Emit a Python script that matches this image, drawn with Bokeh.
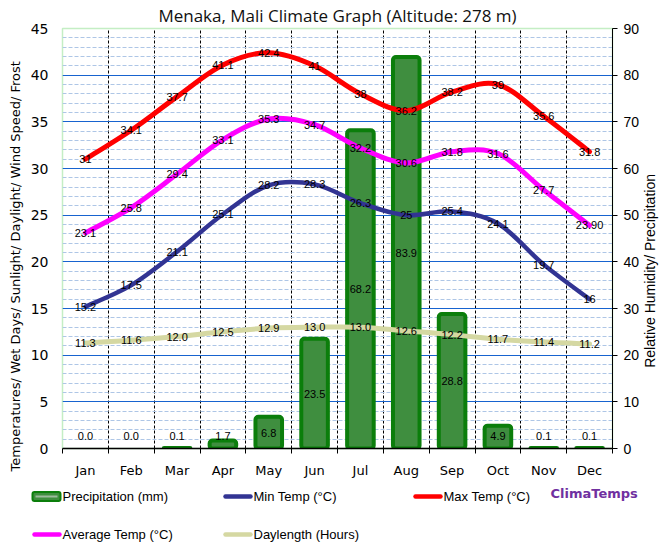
import math
from bokeh.plotting import figure
from bokeh.models import ColumnDataSource, Range1d, LinearAxis, FixedTicker, Title
from bokeh.layouts import column, row
from bokeh.core.properties import value
from bokeh.embed import file_html
from bokeh.resources import INLINE

# ---- data -------------------------------------------------------------
months = ["Jan", "Feb", "Mar", "Apr", "May", "Jun",
          "Jul", "Aug", "Sep", "Oct", "Nov", "Dec"]
max_temp = [31, 34.1, 37.7, 41.1, 42.4, 41, 38, 36.2, 38.2, 39, 35.6, 31.8]
avg_temp = [23.1, 25.8, 29.4, 33.1, 35.3, 34.7, 32.2, 30.6, 31.8, 31.6, 27.7, 23.9]
avg_text = ["23.1", "25.8", "29.4", "33.1", "35.3", "34.7",
            "32.2", "30.6", "31.8", "31.6", "27.7", "23.90"]
min_temp = [15.2, 17.5, 21.1, 25.1, 28.2, 28.3, 26.3, 25, 25.4, 24.1, 19.7, 16]
daylength = [11.3, 11.6, 12.0, 12.5, 12.9, 13.0, 13.0, 12.6, 12.2, 11.7, 11.4, 11.2]
precip = [0.0, 0.0, 0.1, 1.7, 6.8, 23.5, 68.2, 83.9, 28.8, 4.9, 0.1, 0.1]
left_ticks = [0, 5, 10, 15, 20, 25, 30, 35, 40, 45]
right_ticks = [0, 10, 20, 30, 40, 50, 60, 70, 80, 90]

TITLE = "Menaka, Mali Climate Graph (Altitude: 278 m)"
LEFT_LABEL = "Temperatures/ Wet Days/ Sunlight/ Daylight/ Wind Speed/ Frost"
RIGHT_LABEL = "Relative Humidity/ Precipitation"

# ---- page geometry (pixels) ---------------------------------------------
PAGE_W, PAGE_H = 661, 558
LEG_H = 76          # legend strip
MID_H = PAGE_H - LEG_H
RIGHT_W = 19        # strip holding the right axis title
MAIN_W = PAGE_W - RIGHT_W
FRAME_L, FRAME_R = 60, 615   # frame edges on the page
FRAME_T, FRAME_B = 27, 448


def strip(w, h, y_top=0, y_bottom=None, border_top=0, border_bottom=0):
    """Blank figure whose data units are page pixels (y grows downwards)."""
    y_bottom = h if y_bottom is None else y_bottom
    f = figure(width=w, height=h, x_range=Range1d(0, w), y_range=Range1d(y_bottom, y_top),
               output_backend="svg", toolbar_location=None, title=None,
               x_axis_location=None, y_axis_location=None, min_border=0,
               min_border_top=border_top, min_border_bottom=border_bottom)
    f.grid.visible = False
    f.outline_line_color = None
    return f


xs = list(range(1, 13))
Y_MAX, P_MAX = 45, 90

p = figure(width=MAIN_W, height=MID_H, x_range=Range1d(0.5, 12.5), y_range=Range1d(0, Y_MAX),
           output_backend="svg", toolbar_location=None, title=TITLE,
           min_border_left=FRAME_L, min_border_right=MAIN_W - FRAME_R,
           min_border_top=FRAME_T, min_border_bottom=MID_H - FRAME_B)
p.title.align = "center"
p.title.text_font = "Open Sans"
p.title.text_font_size = "17px"
p.title.text_font_style = "normal"
p.title.text_color = "#111111"
p.title.standoff = 3
p.extra_y_ranges = {"precip": Range1d(0, P_MAX)}
p.background_fill_color = "white"
p.outline_line_color = "#c4eec4"
p.outline_line_width = 1.5

# x axis: month names centred, small ticks on the month boundaries
bounds = [i + 0.5 for i in range(0, 13)]
xa = p.xaxis[0]
xa.ticker = FixedTicker(ticks=xs, minor_ticks=bounds)
xa.major_label_overrides = {i: m for i, m in zip(xs, months)}
xa.major_tick_out = 0
xa.major_tick_in = 0
xa.minor_tick_out = 5
xa.minor_tick_in = 0
xa.axis_line_color = "black"
xa.axis_line_width = 1.5
xa.minor_tick_line_color = "black"
xa.major_label_text_font = "DejaVu Sans"
xa.major_label_text_font_size = "13px"
xa.major_label_text_color = "black"
xa.major_label_standoff = 9

# left axis
ya = p.yaxis[0]
ya.ticker = FixedTicker(ticks=left_ticks)
ya.axis_line_color = None
ya.major_tick_out = 0
ya.major_tick_in = 0
ya.minor_tick_out = 0
ya.minor_tick_in = 0
ya.major_label_text_font = "DejaVu Sans"
ya.major_label_text_font_size = "14px"
ya.major_label_text_color = "black"
ya.major_label_standoff = 14

# left axis title, running upwards from just below the frame
p.add_layout(Title(text=LEFT_LABEL, align="left", offset=-23, standoff=10,
                   text_font="DejaVu Sans", text_font_size="13px",
                   text_font_style="normal", text_color="black"), "left")

# right axis for precipitation
ra = LinearAxis(y_range_name="precip", ticker=FixedTicker(ticks=right_ticks))
ra.axis_line_color = "black"
ra.major_tick_out = 5
ra.major_tick_in = 0
ra.minor_tick_out = 0
ra.minor_tick_in = 0
ra.major_label_text_font = "Liberation Sans"
ra.major_label_text_font_size = "14px"
ra.major_label_text_color = "black"
ra.major_label_standoff = 6
p.add_layout(ra, "right")

# grids
p.xgrid.ticker = FixedTicker(ticks=[], minor_ticks=bounds[1:-1])
p.xgrid.grid_line_color = None
p.xgrid.minor_grid_line_color = "black"
p.xgrid.minor_grid_line_dash = "3 2"
p.xgrid.minor_grid_line_width = 1

p.ygrid.ticker = FixedTicker(ticks=[t for t in left_ticks if 0 < t < Y_MAX],
                             minor_ticks=[v for v in range(1, Y_MAX) if v % 5])
p.ygrid.grid_line_color = "#1763cf"
p.ygrid.grid_line_width = 1
p.ygrid.minor_grid_line_color = "#aec6e6"
p.ygrid.minor_grid_line_dash = "4 2"

# precipitation bars
bar_src = ColumnDataSource(dict(
    x=[x for x, v in zip(xs, precip) if v > 0],
    top=[v for v in precip if v > 0],
))
p.vbar(x="x", top="top", bottom=0, width=0.58, source=bar_src, y_range_name="precip",
       fill_color="#3f8e3f", line_color="#0b7e0b", line_width=4, border_radius=3)


# smooth curves through the monthly points (Catmull-Rom as cubic Beziers)
def smooth_segments(vals):
    n = len(vals)
    seg = dict(x0=[], y0=[], x1=[], y1=[], cx0=[], cy0=[], cx1=[], cy1=[])
    for i in range(n - 1):
        im, ip, ipp = max(i - 1, 0), i + 1, min(i + 2, n - 1)
        seg["x0"].append(xs[i]); seg["y0"].append(vals[i])
        seg["x1"].append(xs[ip]); seg["y1"].append(vals[ip])
        seg["cx0"].append(xs[i] + (xs[ip] - xs[im]) / 6)
        seg["cy0"].append(vals[i] + (vals[ip] - vals[im]) / 6)
        seg["cx1"].append(xs[ip] - (xs[ipp] - xs[i]) / 6)
        seg["cy1"].append(vals[ip] - (vals[ipp] - vals[i]) / 6)
    return ColumnDataSource(seg)


series = [
    (daylength, "#d5d8a2", 5),
    (min_temp, "#323493", 4.5),
    (avg_temp, "#ff00ff", 5),
    (max_temp, "#ff0000", 5),
]
for vals, color, lw in series:
    p.bezier(x0="x0", y0="y0", x1="x1", y1="y1", cx0="cx0", cy0="cy0",
             cx1="cx1", cy1="cy1", source=smooth_segments(vals),
             line_color=color, line_width=lw, line_cap="round")

# value labels
lab_font = value("Liberation Sans")


def put_text(ys, texts, **kw):
    p.text(x=xs, y=ys, text=texts, text_font=lab_font, text_font_size="11px",
           text_color="black", text_align="center", text_baseline="middle", **kw)


put_text(daylength, [f"{v:.1f}" for v in daylength])
put_text(min_temp, [f"{v:g}" for v in min_temp])
put_text(avg_temp, avg_text)
put_text(max_temp, [f"{v:g}" for v in max_temp])
put_text([max(v / 2, 2.6) for v in precip], [f"{v:.1f}" for v in precip],
         y_range_name="precip")

# ---- right axis title strip (frame aligned with the main plot) ------------
right = strip(RIGHT_W, MID_H, y_top=FRAME_T, y_bottom=FRAME_B,
              border_top=FRAME_T, border_bottom=MID_H - FRAME_B)
right.text(x=[649 - MAIN_W], y=[270], text=[RIGHT_LABEL],
           angle=math.pi / 2, text_font=value("Liberation Sans"), text_font_size="14px",
           text_color="black", text_align="center", text_baseline="middle")

# ---- legend strip -------------------------------------------------------
lg = strip(PAGE_W, LEG_H)
col_x = [32, 223, 413]
row_y = [14, 52]
sw_len = 28
entries = [
    ("Precipitation (mm)", None, 0, 0),
    ("Min Temp (\u00b0C)", "#323493", 1, 0),
    ("Max Temp (\u00b0C)", "#ff0000", 2, 0),
    ("Average Temp (\u00b0C)", "#ff00ff", 0, 1),
    ("Daylength (Hours)", "#d5d8a2", 1, 1),
]
for text, color, c, r in entries:
    x0, y0 = col_x[c], row_y[r]
    if color is None:
        lg.rect(x=[x0 + sw_len / 2], y=[y0], width=sw_len, height=9,
                fill_color="#3f8e3f", line_color="#0b7e0b", line_width=2, border_radius=2)
        lg.segment(x0=[x0 + 3], y0=[y0], x1=[x0 + sw_len - 3], y1=[y0],
                   line_color="#9dbb9d", line_width=2)
    else:
        lg.segment(x0=[x0 + 2], y0=[y0], x1=[x0 + sw_len - 1], y1=[y0],
                   line_color=color, line_width=4.5, line_cap="round")
    lg.text(x=[x0 + sw_len + 2], y=[y0], text=[text], text_font=value("Liberation Sans"),
            text_font_size="13px", text_color="black", text_baseline="middle")

lg.text(x=[550], y=[11], text=["ClimaTemps"], text_font=value("DejaVu Sans"),
        text_font_size="13px", text_font_style="bold", text_color="#7030a0",
        text_baseline="middle")

layout = column(row(p, right, spacing=0), lg, spacing=0)
open("out.html", "w").write(file_html(layout, INLINE))
